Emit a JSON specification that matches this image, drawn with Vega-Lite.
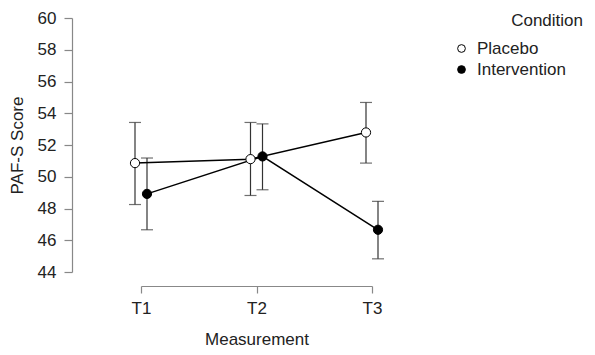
{
  "$schema": "https://vega.github.io/schema/vega-lite/v6.json",
  "width": 231,
  "height": 254,
  "autosize": {"type": "none"},
  "padding": {"left": 141, "top": 18, "right": 223, "bottom": 83},
  "background": "white",
  "title": {"text": "Condition", "anchor": "end", "frame": "group", "orient": "top", "offset": 0, "dx": 211, "dy": 21, "fontSize": 17, "fontWeight": "normal", "color": "#222222", "font": "Liberation Sans"},
  "config": {
    "view": {"stroke": null},
    "font": "Liberation Sans",
    "axis": {"grid": false, "domainColor": "#888888", "tickColor": "#888888", "labelColor": "#222222", "titleColor": "#222222", "labelFontSize": 17, "titleFontSize": 17, "titleFontWeight": "normal", "tickSize": 8, "domainWidth": 1.2, "tickWidth": 1.2, "labelOverlap": false}
  },
  "data": {
    "values": [
      {"Time": "T1", "Condition": "Placebo", "mean": 50.86, "lower": 48.25, "upper": 53.42},
      {"Time": "T2", "Condition": "Placebo", "mean": 51.11, "lower": 48.82, "upper": 53.42},
      {"Time": "T3", "Condition": "Placebo", "mean": 52.79, "lower": 50.86, "upper": 54.68},
      {"Time": "T1", "Condition": "Intervention", "mean": 48.92, "lower": 46.66, "upper": 51.18},
      {"Time": "T2", "Condition": "Intervention", "mean": 51.28, "lower": 49.18, "upper": 53.33},
      {"Time": "T3", "Condition": "Intervention", "mean": 46.66, "lower": 44.83, "upper": 48.45}
    ]
  },
  "encoding": {
    "x": {"field": "Time", "type": "ordinal", "scale": {"type": "point", "padding": 0}, "axis": {"title": "Measurement", "labelAngle": 0, "offset": 14, "tickSize": 7, "labelPadding": 7, "titlePadding": 15}},
    "xOffset": {"field": "Condition", "type": "nominal", "scale": {"type": "point", "domain": ["Placebo", "Intervention"], "range": [-6, 6], "padding": 0}}
  },
  "layer": [
    {
      "mark": {"type": "rule", "color": "#333333", "strokeWidth": 1.2},
      "encoding": {
        "y": {"field": "lower", "type": "quantitative", "scale": {"domain": [44, 60], "nice": false, "zero": false}, "axis": {"title": "PAF-S Score", "values": [44, 46, 48, 50, 52, 54, 56, 58, 60], "offset": 69, "labelPadding": 8, "titlePadding": 11, "labelOverlap": false}},
        "y2": {"field": "upper"}
      }
    },
    {
      "mark": {"type": "tick", "color": "#333333", "size": 12, "thickness": 1.2, "orient": "horizontal"},
      "encoding": {"y": {"field": "lower", "type": "quantitative", "scale": {"domain": [44, 60], "nice": false, "zero": false}, "axis": {"title": "PAF-S Score", "values": [44, 46, 48, 50, 52, 54, 56, 58, 60], "offset": 69, "labelPadding": 8, "titlePadding": 11, "labelOverlap": false}}}
    },
    {
      "mark": {"type": "tick", "color": "#333333", "size": 12, "thickness": 1.2, "orient": "horizontal"},
      "encoding": {"y": {"field": "upper", "type": "quantitative", "scale": {"domain": [44, 60], "nice": false, "zero": false}, "axis": {"title": "PAF-S Score", "values": [44, 46, 48, 50, 52, 54, 56, 58, 60], "offset": 69, "labelPadding": 8, "titlePadding": 11, "labelOverlap": false}}}
    },
    {
      "mark": {"type": "line", "color": "black", "strokeWidth": 1.5},
      "encoding": {
        "y": {"field": "mean", "type": "quantitative", "scale": {"domain": [44, 60], "nice": false, "zero": false}, "axis": {"title": "PAF-S Score", "values": [44, 46, 48, 50, 52, 54, 56, 58, 60], "offset": 69, "labelPadding": 8, "titlePadding": 11, "labelOverlap": false}},
        "detail": {"field": "Condition", "type": "nominal"}
      }
    },
    {
      "mark": {"type": "point", "filled": true, "stroke": "black", "strokeWidth": 1, "size": 85, "opacity": 1, "shape": "circle"},
      "encoding": {
        "y": {"field": "mean", "type": "quantitative", "scale": {"domain": [44, 60], "nice": false, "zero": false}, "axis": {"title": "PAF-S Score", "values": [44, 46, 48, 50, 52, 54, 56, 58, 60], "offset": 69, "labelPadding": 8, "titlePadding": 11, "labelOverlap": false}},
        "fill": {"field": "Condition", "type": "nominal", "scale": {"domain": ["Placebo", "Intervention"], "range": ["white", "black"]},
          "legend": {"title": null, "orient": "none", "legendX": 312, "legendY": 22, "labelFontSize": 17, "labelColor": "#222222", "symbolType": "circle", "symbolSize": 60, "symbolStrokeColor": "black", "symbolStrokeWidth": 1, "rowPadding": 3, "labelOffset": 7}}
      }
    }
  ]
}
